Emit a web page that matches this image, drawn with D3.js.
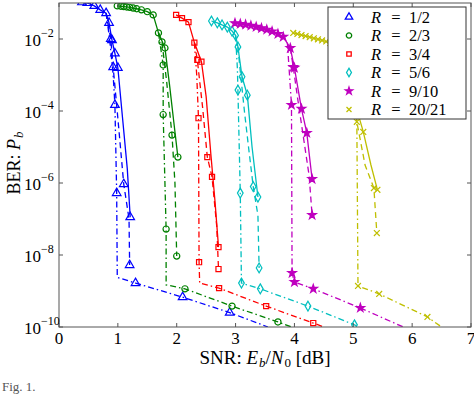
<!DOCTYPE html>
<html>
<head>
<meta charset="utf-8">
<script src="https://d3js.org/d3.v7.min.js"></script>
<style>
  body { margin: 0; background: #fff; }
  text { font-family: "Liberation Serif", "Times New Roman", Times, serif; fill: #000; }
</style>
</head>
<body>
<div id="chart"></div>
<script>
// each point: [SNR in dB, log10(BER), (0 = vertex without marker)]
var rates = ["1/2", "2/3", "3/4", "5/6", "9/10", "20/21"];
var colors = ["#0000ff", "#008000", "#ff0000", "#00bfbf", "#bf00bf", "#bfbf00"];
var xTicks = [0, 1, 2, 3, 4, 5, 6, 7];
var yTickExp = [-2, -4, -6, -8, -10];

var r12Solid = [[0.39,-0.98],[0.48,-1.0],[0.6,-1.08],[0.7,-1.19],[0.8,-1.28],[0.85,-1.55],[0.9,-2.03],[0.95,-2.4],[1.0,-2.8],[1.08,-4.2,0],[1.16,-5.6,0],[1.21,-6.95]];
var r12Dash  = [[0.8,-1.28,0],[0.88,-2.0],[0.92,-2.78],[1.0,-4.2,0],[1.1,-6.03],[1.19,-7.0,0],[1.2,-8.28]];
var r12DDot  = [[0.8,-1.28,0],[0.86,-2.0,0],[0.92,-3.0,0],[0.95,-3.83],[0.98,-6.28],[0.99,-8.62,0],[1.3,-8.78],[2.1,-9.17],[2.9,-9.6],[3.55,-10,0]];

var r23Solid = [[0.99,-1.08],[1.05,-1.09],[1.1,-1.1],[1.15,-1.11],[1.2,-1.12],[1.26,-1.14],[1.32,-1.16],[1.4,-1.19],[1.5,-1.24],[1.6,-1.33],[1.69,-1.83],[1.8,-2.25],[1.88,-3.3,0],[1.95,-4.3,0],[2.02,-5.28]];
var r23Dash  = [[1.69,-1.83,0],[1.75,-2.08],[1.83,-3.2,0],[1.92,-4.67],[1.97,-6.0,0],[2.0,-8.03]];
var r23DDot  = [[1.69,-1.83,0],[1.77,-2.72],[1.77,-4.1],[1.82,-7.28],[1.82,-8.83,0],[2.14,-8.94],[2.94,-9.42],[3.72,-9.86],[3.95,-10,0]];

var r34Solid = [[1.99,-1.33],[2.09,-1.42],[2.2,-1.53],[2.3,-2.1],[2.42,-2.63],[2.5,-3.6,0],[2.58,-5.2,0],[2.65,-6.5,0],[2.71,-7.78]];
var r34Dash  = [[2.3,-2.1,0],[2.35,-2.58],[2.44,-3.9,0],[2.52,-5.28],[2.6,-5.83],[2.68,-7.2,0],[2.71,-8.39]];
var r34DDot  = [[2.3,-2.1,0],[2.34,-3.0,0],[2.37,-4.2],[2.38,-8.2],[2.39,-8.78,0],[2.72,-8.92],[3.52,-9.42],[4.32,-9.89],[4.5,-10,0]];

var r56Solid = [[2.59,-1.5],[2.69,-1.55],[2.77,-1.61],[2.86,-1.67],[2.94,-1.78],[3.0,-1.9],[3.04,-2.22],[3.11,-3.05],[3.2,-3.56],[3.28,-5.0,0],[3.38,-6.39]];
var r56Dash  = [[3.04,-2.22,0],[3.08,-2.9,0],[3.15,-4.0,0],[3.22,-5.0,0],[3.3,-6.1],[3.38,-6.9,0],[3.4,-8.36]];
var r56DDot  = [[3.0,-1.9,0],[3.03,-2.8,0],[3.04,-3.42],[3.08,-6.28],[3.1,-8.78],[3.42,-8.94],[4.23,-9.42],[5.02,-9.94],[5.1,-10,0]];

var r910Solid = [[2.99,-1.56],[3.08,-1.58],[3.17,-1.6],[3.26,-1.63],[3.35,-1.66],[3.44,-1.7],[3.53,-1.74],[3.62,-1.79],[3.72,-1.86],[3.81,-1.94],[3.93,-2.25],[4.0,-2.8],[4.12,-3.94],[4.21,-4.61],[4.3,-5.89]];
var r910Dash  = [[3.93,-2.25,0],[3.98,-2.78],[4.05,-3.6,0],[4.15,-4.7,0],[4.25,-5.8,0],[4.3,-6.89]];
var r910DDot  = [[3.88,-2.1,0],[3.95,-3.83],[3.96,-8.5],[4.0,-8.75],[4.32,-8.94],[5.12,-9.47],[5.85,-10,0]];

var r2021Solid = [[3.98,-1.83],[4.05,-1.86],[4.12,-1.89],[4.19,-1.92],[4.26,-1.95],[4.33,-1.98],[4.4,-2.01],[4.47,-2.04],[4.54,-2.07],[4.61,-2.11],[4.8,-2.4],[4.95,-3.0],[5.05,-3.9],[5.17,-4.58],[5.3,-5.5,0],[5.41,-6.19]];
var r2021Dash  = [[4.95,-3.0,0],[5.06,-4.3],[5.2,-5.5,0],[5.35,-6.14],[5.4,-7.39]];
var r2021DDot  = [[4.95,-3.0,0],[5.06,-4.2,0],[5.08,-8.86],[5.44,-9.08],[6.26,-9.72],[6.5,-10,0]];

var curves = [
  [r12Solid, r12Dash, r12DDot],
  [r23Solid, r23Dash, r23DDot],
  [r34Solid, r34Dash, r34DDot],
  [r56Solid, r56Dash, r56DDot],
  [r910Solid, r910Dash, r910DDot],
  [r2021Solid, r2021Dash, r2021DDot]
];

(function(){
  var W = 474, H = 395;
  var x = d3.scaleLinear().domain([0, 7]).range([59, 471]);
  var y = d3.scaleLog().domain([1e-10, 1e-1]).range([327, 3]);
  var dashes = [null, "6,4", "6,3,1.5,3"];
  var symbols = [d3.symbolTriangle, d3.symbolCircle, d3.symbolSquare, d3.symbolDiamond, d3.symbolStar, d3.symbolTimes];
  var symSize = [32, 30, 26, 28, 22, 24];

  var svg = d3.select("#chart").append("svg").attr("width", W).attr("height", H);

  svg.append("clipPath").attr("id", "plotclip")
     .append("rect").attr("x", 59).attr("y", 3).attr("width", 412).attr("height", 324);

  var plot = svg.append("g").attr("clip-path", "url(#plotclip)");
  var line = d3.line().x(function(d){ return x(d[0]); }).y(function(d){ return y(Math.pow(10, d[1])); });

  curves.forEach(function(set, i){
    set.forEach(function(pts, k){
      plot.append("path").attr("d", line(pts))
          .attr("fill", "none").attr("stroke", colors[i]).attr("stroke-width", 1.3)
          .attr("stroke-dasharray", dashes[k]);
      plot.selectAll(null).data(pts.filter(function(d){ return d[2] !== 0; }))
          .enter().append("path")
          .attr("d", d3.symbol().type(symbols[i]).size(symSize[i]))
          .attr("transform", function(d){ return "translate(" + x(d[0]) + "," + y(Math.pow(10, d[1])) + ")"; })
          .attr("fill", i === 4 ? colors[i] : "none")
          .attr("stroke", colors[i]).attr("stroke-width", 1.2);
    });
  });

  // axes box and ticks
  var ax = svg.append("g").attr("stroke", "#555").attr("stroke-width", 1);
  ax.append("rect").attr("x", 59).attr("y", 3).attr("width", 412).attr("height", 324).attr("fill", "none");
  xTicks.forEach(function(t){
    ax.append("line").attr("x1", x(t)).attr("x2", x(t)).attr("y1", 327).attr("y2", 323);
    ax.append("line").attr("x1", x(t)).attr("x2", x(t)).attr("y1", 3).attr("y2", 7);
    svg.append("text").attr("x", x(t)).attr("y", 344).attr("text-anchor", "middle")
       .attr("font-size", 17).text(t);
  });
  yTickExp.forEach(function(e){
    var yy = y(Math.pow(10, e));
    ax.append("line").attr("x1", 59).attr("x2", 63).attr("y1", yy).attr("y2", yy);
    ax.append("line").attr("x1", 471).attr("x2", 467).attr("y1", yy).attr("y2", yy);
    var t = svg.append("text").attr("x", 24).attr("y", yy + 7).attr("font-size", 17);
    t.append("tspan").text("10");
    t.append("tspan").attr("dy", -9).attr("font-size", 12).text("\u2212" + (-e));
  });

  // axis labels
  var xl = svg.append("text").attr("x", 265).attr("y", 364).attr("text-anchor", "middle").attr("font-size", 19);
  xl.append("tspan").text("SNR: ");
  xl.append("tspan").attr("font-style", "italic").text("E");
  xl.append("tspan").attr("font-style", "italic").attr("font-size", 13).attr("dx", 1).attr("dy", 3).text("b");
  xl.append("tspan").attr("dy", -3).text("/");
  xl.append("tspan").attr("font-style", "italic").text("N");
  xl.append("tspan").attr("font-size", 13).attr("dx", 1).attr("dy", 3).text("0");
  xl.append("tspan").attr("dy", -3).text(" [dB]");

  var yl = svg.append("text").attr("transform", "translate(20,163) rotate(-90)")
              .attr("text-anchor", "middle").attr("font-size", 18);
  yl.append("tspan").text("BER: ");
  yl.append("tspan").attr("font-style", "italic").text("P");
  yl.append("tspan").attr("font-style", "italic").attr("font-size", 13).attr("dx", 1).attr("dy", 3).text("b");

  // legend
  var lg = svg.append("g");
  lg.append("rect").attr("x", 328).attr("y", 7).attr("width", 138).attr("height", 112)
    .attr("fill", "#fff").attr("stroke", "#333").attr("stroke-width", 1);
  rates.forEach(function(r, i){
    var cy = 17 + i * 18.5;
    lg.append("path").attr("d", d3.symbol().type(symbols[i]).size(symSize[i] * 0.75))
      .attr("transform", "translate(349," + cy + ")")
      .attr("fill", i === 4 ? colors[i] : "none").attr("stroke", colors[i]).attr("stroke-width", 1.3);
    var t = lg.append("text").attr("x", 371).attr("y", cy + 5.5).attr("font-size", 16.5);
    t.append("tspan").attr("font-style", "italic").text("R");
    t.append("tspan").attr("dx", 2).text("\u2002=\u2002" + r);
  });

  // caption line at the bottom edge
  svg.append("text").attr("x", 2).attr("y", 391).attr("font-size", 13).style("fill", "#555").text("Fig. 1.");
})();
</script>
</body>
</html>
